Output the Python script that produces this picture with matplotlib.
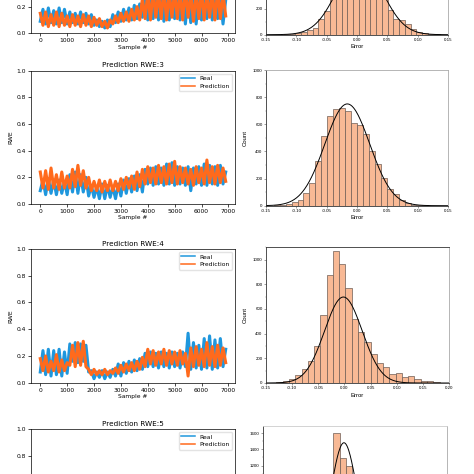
import numpy as np
import matplotlib
matplotlib.use("Agg")
import matplotlib.pyplot as plt
from matplotlib.ticker import MultipleLocator, FormatStrFormatter

# Time series, one value about every 100 samples
rwe2_real = [0.09, 0.18, 0.07, 0.19, 0.08, 0.17, 0.07, 0.19, 0.08, 0.18,
             0.07, 0.16, 0.08, 0.15, 0.07, 0.16, 0.08, 0.15, 0.07, 0.14,
             0.06, 0.10, 0.05, 0.09, 0.04, 0.10, 0.05, 0.14, 0.08, 0.16,
             0.09, 0.18, 0.10, 0.19, 0.10, 0.21, 0.11, 0.22, 0.12, 0.28,
             0.10, 0.30, 0.11, 0.29, 0.10, 0.31, 0.09, 0.30, 0.10, 0.29,
             0.11, 0.30, 0.10, 0.29, 0.07, 0.30, 0.08, 0.29, 0.07, 0.30,
             0.10, 0.29, 0.11, 0.30, 0.10, 0.28, 0.11, 0.29, 0.07, 0.25]
rwe2_pred = [0.15, 0.06, 0.16, 0.05, 0.14, 0.06, 0.16, 0.05, 0.15, 0.06,
             0.13, 0.05, 0.14, 0.06, 0.13, 0.05, 0.14, 0.06, 0.13, 0.05,
             0.12, 0.06, 0.11, 0.05, 0.09, 0.04, 0.10, 0.07, 0.13, 0.08,
             0.15, 0.09, 0.16, 0.09, 0.18, 0.10, 0.20, 0.10, 0.26, 0.11,
             0.30, 0.10, 0.32, 0.12, 0.31, 0.11, 0.33, 0.10, 0.30, 0.12,
             0.32, 0.11, 0.31, 0.10, 0.33, 0.12, 0.30, 0.09, 0.31, 0.11,
             0.32, 0.10, 0.30, 0.12, 0.31, 0.10, 0.32, 0.11, 0.30, 0.13]

rwe3_real = [0.10, 0.18, 0.07, 0.19, 0.08, 0.18, 0.07, 0.18, 0.08, 0.17,
             0.07, 0.22, 0.09, 0.24, 0.08, 0.22, 0.09, 0.20, 0.06, 0.14,
             0.05, 0.13, 0.04, 0.15, 0.04, 0.14, 0.05, 0.13, 0.04, 0.15,
             0.06, 0.18, 0.08, 0.19, 0.09, 0.21, 0.10, 0.22, 0.09, 0.26,
             0.15, 0.27, 0.14, 0.28, 0.15, 0.27, 0.14, 0.30, 0.15, 0.31,
             0.14, 0.28, 0.15, 0.27, 0.14, 0.28, 0.10, 0.27, 0.15, 0.28,
             0.14, 0.30, 0.14, 0.29, 0.15, 0.28, 0.14, 0.29, 0.15, 0.24]
rwe3_pred = [0.24, 0.12, 0.25, 0.11, 0.27, 0.12, 0.22, 0.11, 0.24, 0.12,
             0.21, 0.12, 0.26, 0.13, 0.29, 0.14, 0.25, 0.12, 0.20, 0.10,
             0.17, 0.10, 0.18, 0.09, 0.17, 0.10, 0.18, 0.10, 0.17, 0.10,
             0.19, 0.11, 0.20, 0.12, 0.21, 0.11, 0.24, 0.13, 0.26, 0.15,
             0.28, 0.16, 0.27, 0.15, 0.29, 0.16, 0.28, 0.15, 0.30, 0.16,
             0.32, 0.15, 0.28, 0.16, 0.27, 0.15, 0.26, 0.14, 0.28, 0.16,
             0.27, 0.15, 0.33, 0.16, 0.28, 0.15, 0.29, 0.16, 0.27, 0.17]

rwe4_real = [0.08, 0.24, 0.06, 0.25, 0.05, 0.24, 0.06, 0.25, 0.05, 0.23,
             0.07, 0.29, 0.16, 0.30, 0.15, 0.29, 0.16, 0.28, 0.08, 0.09,
             0.03, 0.08, 0.04, 0.09, 0.03, 0.08, 0.04, 0.10, 0.05, 0.14,
             0.05, 0.15, 0.07, 0.16, 0.08, 0.17, 0.09, 0.18, 0.10, 0.22,
             0.12, 0.23, 0.12, 0.22, 0.11, 0.23, 0.12, 0.22, 0.11, 0.23,
             0.12, 0.22, 0.11, 0.23, 0.12, 0.37, 0.10, 0.30, 0.11, 0.28,
             0.10, 0.33, 0.11, 0.35, 0.10, 0.32, 0.11, 0.33, 0.12, 0.25]
rwe4_pred = [0.18, 0.09, 0.20, 0.08, 0.16, 0.09, 0.21, 0.08, 0.17, 0.09,
             0.15, 0.13, 0.28, 0.12, 0.30, 0.13, 0.31, 0.12, 0.10, 0.06,
             0.10, 0.06, 0.09, 0.06, 0.10, 0.06, 0.09, 0.07, 0.11, 0.07,
             0.13, 0.08, 0.14, 0.09, 0.15, 0.09, 0.16, 0.10, 0.19, 0.12,
             0.25, 0.14, 0.24, 0.13, 0.23, 0.14, 0.25, 0.13, 0.24, 0.14,
             0.23, 0.13, 0.24, 0.14, 0.22, 0.05, 0.26, 0.12, 0.27, 0.13,
             0.25, 0.12, 0.30, 0.13, 0.27, 0.12, 0.28, 0.13, 0.26, 0.15]

rwe5_real = [0.10, 0.23, 0.09, 0.25, 0.10, 0.24, 0.11, 0.22, 0.08, 0.20,
             0.07, 0.19, 0.08, 0.20, 0.09, 0.22, 0.10, 0.25, 0.12, 0.27,
             0.13, 0.28, 0.12, 0.29, 0.13, 0.27, 0.12, 0.28, 0.13, 0.29,
             0.12, 0.27, 0.13, 0.26, 0.14]
rwe5_pred = [0.22, 0.12, 0.24, 0.11, 0.23, 0.12, 0.25, 0.13, 0.20, 0.10,
             0.19, 0.09, 0.18, 0.10, 0.19, 0.11, 0.21, 0.12, 0.24, 0.14,
             0.26, 0.15, 0.27, 0.14, 0.28, 0.15, 0.26, 0.14, 0.27, 0.15,
             0.28, 0.14, 0.26, 0.15, 0.25]

titles = ["Prediction RWE:2", "Prediction RWE:3", "Prediction RWE:4", "Prediction RWE:5"]

# Error histograms: first bin edge, bin width, counts, and fitted normal (mu, sigma, peak)
hist2_start, hist2_width = -0.130, 0.0095
hist2_counts = [1, 3, 6, 12, 22, 33, 50, 120, 180, 300,
                420, 520, 590, 620, 600, 560, 480, 390, 290, 190,
                125, 110, 85, 42, 23, 10, 5, 2]
hist2_fit = (0.004, 0.037, 560)

hist3_start, hist3_width = -0.1372, 0.0098
hist3_counts = [2, 4, 10, 30, 40, 91, 165, 331, 511, 664,
                714, 721, 701, 610, 598, 528, 405, 306, 202, 123,
                84, 42, 17, 8, 4, 2]
hist3_fit = (-0.016, 0.037, 750)

hist4_start, hist4_width = -0.130, 0.012
hist4_counts = [10, 15, 32, 68, 113, 175, 303, 554, 878, 1068,
                965, 770, 519, 411, 330, 235, 162, 127, 76, 81,
                49, 60, 30, 20, 15, 10]
hist4_fit = (-0.002, 0.036, 697)

hist5_start, hist5_width = -0.136, 0.012
hist5_counts = [2, 4, 8, 15, 25, 45, 80, 150, 300, 700,
                1600, 1290, 1200, 620, 300, 140, 70, 35, 20, 10,
                6, 3]
hist5_fit = (0.004, 0.025, 1480)

W, H = 474, 474

def px_box(left, top, right, bottom):
    # pixel box (y down) -> figure fraction
    return [left / W, 1 - bottom / H, (right - left) / W, (bottom - top) / H]

def plot_series(ax, title, real, pred):
    x_real = np.linspace(0, 6899, len(real))
    x_pred = np.linspace(0, 6899, len(pred))
    ax.plot(x_real, real, color="#1f97dd", lw=2.2, label="Real")
    ax.plot(x_pred, pred, color="#ff6a1c", lw=2.2, label="Prediction")
    ax.set_xlim(-345, 7245)
    ax.set_ylim(0, 1.0)
    ax.set_xticks(np.arange(0, 7001, 1000))
    ax.set_yticks(np.arange(0, 1.01, 0.2))
    ax.yaxis.set_major_formatter(FormatStrFormatter("%.1f"))
    ax.set_title(title, fontsize=5.2, pad=2.5)
    ax.set_xlabel("Sample #", fontsize=4.3, labelpad=1)
    ax.set_ylabel("RWE", fontsize=4.3, labelpad=2)
    ax.tick_params(labelsize=4.3, length=2, width=0.5, pad=1.5)
    for s in ax.spines.values():
        s.set_linewidth(0.5)
    leg = ax.legend(loc="upper right", fontsize=4.3, frameon=True, framealpha=0.8,
                    edgecolor="#dddddd", borderpad=0.4, handlelength=2.2, labelspacing=0.4)
    for line in leg.get_lines():
        line.set_linewidth(1.1)

def plot_histogram(ax, start, width, counts, fit, xlim, ylim, top_color):
    edges = start + width * np.arange(len(counts) + 1)
    ax.bar(edges[:-1], counts, width=width, align="edge", color="#f8b995",
           edgecolor="#6e5d55", linewidth=0.5)
    mu, sigma, peak = fit
    xs = np.linspace(xlim[0], xlim[1], 400)
    ax.plot(xs, peak * np.exp(-0.5 * ((xs - mu) / sigma) ** 2), color="black", lw=0.7)
    ax.set_xlim(*xlim)
    ax.set_ylim(*ylim)
    ax.xaxis.set_major_locator(MultipleLocator(0.05))
    ax.xaxis.set_major_formatter(FormatStrFormatter("%.2f"))
    ax.yaxis.set_major_locator(MultipleLocator(200))
    ax.yaxis.set_minor_locator(MultipleLocator(100))
    ax.set_xlabel("Error", fontsize=4.3, labelpad=1.5, family="Liberation Sans")
    ax.set_ylabel("Count", fontsize=4.3, labelpad=4, family="Liberation Sans")
    ax.tick_params(which="major", labelsize=3.2, length=1.5, width=0.4, pad=1, color="#555555")
    ax.tick_params(which="minor", length=0.8, width=0.3, color="#888888")
    for lab in ax.get_xticklabels() + ax.get_yticklabels():
        lab.set_family("Liberation Sans")
    for name, s in ax.spines.items():
        s.set_linewidth(0.6)
        s.set_color("#333333" if name in ("left", "bottom") else "#aaaaaa")
    ax.spines["top"].set_color(top_color)

def main():
    fig = plt.figure(figsize=(W / 100, H / 100), dpi=100)

    series = [(rwe2_real, rwe2_pred), (rwe3_real, rwe3_pred),
              (rwe4_real, rwe4_pred), (rwe5_real, rwe5_pred)]
    left_boxes = [(31, -100, 235, 33.3), (31, 70.7, 235, 204),
                  (31, 249, 235, 382.7), (31, 429, 235, 562)]
    for title, (real, pred), box in zip(titles, series, left_boxes):
        ax = fig.add_axes(px_box(*box))
        plot_series(ax, title, real, pred)

    hists = [
        (hist2_start, hist2_width, hist2_counts, hist2_fit, (-0.15, 0.15), (0, 1050), "#aaaaaa"),
        (hist3_start, hist3_width, hist3_counts, hist3_fit, (-0.15, 0.15), (0, 1000), "#aaaaaa"),
        (hist4_start, hist4_width, hist4_counts, hist4_fit, (-0.15, 0.20), (0, 1100), "#333333"),
        (hist5_start, hist5_width, hist5_counts, hist5_fit, (-0.15, 0.20), (0, 1690), "#cccccc"),
    ]
    right_boxes = [(266, -101, 448, 34.7), (266, 70, 448, 205.7),
                   (266, 247.3, 449, 383), (263, 425.7, 447, 563)]
    for h, box in zip(hists, right_boxes):
        ax = fig.add_axes(px_box(*box))
        plot_histogram(ax, *h)

    fig.savefig("out.png", dpi=100)

if __name__ == "__main__":
    main()
